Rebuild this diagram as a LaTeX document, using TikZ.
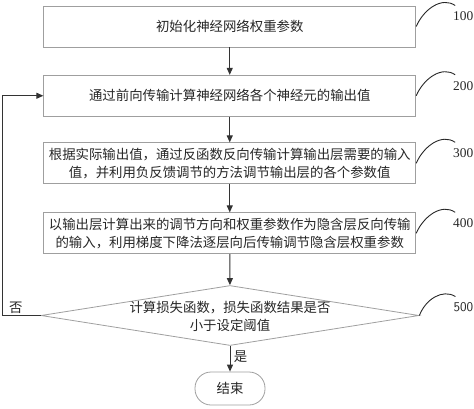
\documentclass[tikz,border=0pt]{standalone}
\usepackage{fontspec}
\setmainfont{Liberation Serif}
\newfontfamily\cjk{Noto Sans CJK SC}
\usetikzlibrary{arrows.meta,shapes.geometric}

\begin{document}
\begin{tikzpicture}[x=1pt,y=-1pt,
  stepbox/.style={draw=gray!75,line width=0.8pt,minimum width=372pt,minimum height=41pt,
    inner sep=0pt,align=center,text=black!85,font=\cjk\fontsize{13.4}{18}\selectfont},
  arr/.style={black!80,line width=1pt,-{Triangle[length=7pt,width=6pt]}},
  hook/.style={black!85,line width=0.9pt}]
\useasboundingbox (0,0) rectangle (474,408);

\node[stepbox] (s100) at (229.75,26.5) {初始化神经网络权重参数};
\node[stepbox] (s200) at (229.75,95.75) {通过前向传输计算神经网络各个神经元的输出值};
\node[stepbox] (s300) at (229.75,163.3)
  {根据实际输出值，通过反函数反向传输计算输出层需要的输入\\值，并利用负反馈调节的方法调节输出层的各个参数值};
\node[stepbox] (s400) at (229.75,233.3)
  {以输出层计算出来的调节方向和权重参数作为隐含层反向传输\\的输入，利用梯度下降法逐层向后传输调节隐含层权重参数};
\node[diamond,draw=gray!75,line width=0.8pt,inner sep=0pt,
  minimum width=378pt,minimum height=60pt] (s500) at (230,315.5) {};
\node[align=center,inner sep=0pt,text=black!85,font=\cjk\fontsize{13.4}{18}\selectfont]
  (t500) at (230,316) {计算损失函数，损失函数结果是否\\小于设定阈值};
\node[draw=gray!75,line width=0.8pt,rounded corners=16pt,minimum width=70pt,
  minimum height=33pt,text=black!85,font=\cjk\fontsize{13.4}{18}\selectfont] (end) at (230,388.5) {结束};

\draw[arr] (s100) -- (s200);
\draw[arr] (s200) -- (s300);
\draw[arr] (s300) -- (s400);
\draw[arr] (s400) -- (s500);
\draw[arr] (s500) -- node[right,pos=0.42,text=black!85,font=\cjk\fontsize{13.4}{18}\selectfont]{是} (end);

% back to step 200
\coordinate (back) at (2.5,315.5);
\draw[arr] (s500.west) -- node[above,pos=0.65,inner sep=1.5pt,text=black!85,
  font=\cjk\fontsize{13.4}{18}\selectfont]{否} (back) |- (s200.west);

% step numbers
\foreach \n/\t in {s100/100,s200/200,s300/300,s400/400}
  \draw[hook] (\n.east) .. controls +(8,-18) and +(-13,-9) .. ++(39,-21)
    node[shift={(8,11)},text=black!85,font=\fontsize{13.4}{16}\selectfont] {\t};
\draw[hook] (s500.east) .. controls +(6,-16) and +(-13,-8) .. ++(36,-19)
  node[shift={(8,11)},text=black!85,font=\fontsize{13.4}{16}\sffamily\selectfont] {500};
\end{tikzpicture}
\end{document}
